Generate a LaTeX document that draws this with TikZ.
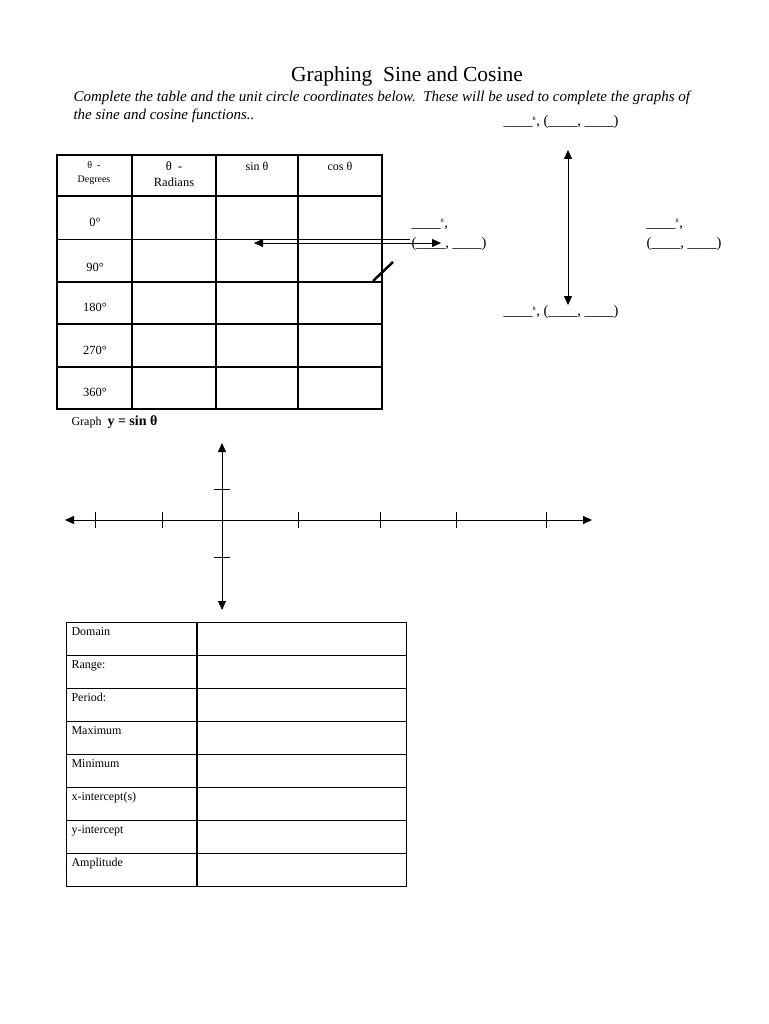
\documentclass[tikz,border=0pt]{standalone}
\usepackage{fontspec}
\setmainfont{Liberation Serif}
\usetikzlibrary{arrows.meta}
\begin{document}
\begin{tikzpicture}[x=1pt,y=-1pt,
  cell/.style={anchor=north,font=\fontsize{12}{13}\selectfont},
  lbl/.style={anchor=west,font=\fontsize{12}{13}\selectfont},
  clbl/.style={anchor=west,font=\fontsize{14.5}{15}\selectfont},
  arr/.style={{Triangle[length=9pt,width=8pt]}-{Triangle[length=9pt,width=8pt]}}]
\useasboundingbox (0,0) rectangle (768,1024);
\node (title) at (407,76) {\fontsize{21.5}{24}\selectfont Graphing\ \ Sine and Cosine};
\node[anchor=north west,align=left,font=\fontsize{15}{18}\selectfont\itshape] (instr) at (70,87) {Complete the table and the unit circle coordinates below.\ \ These will be used to complete the graphs of\\the sine and cosine functions..};
% table
\draw[line width=1.4pt] (57,155) rectangle (382,409);
\foreach \x in {132,216,298} \draw[line width=1.2pt] (\x,155) -- (\x,409);
\foreach \y in {196,282,324,367} \draw[line width=1.2pt] (57,\y) -- (382,\y);
\draw[line width=1pt] (57,239) -- (410,239);
\node[cell,align=center,font=\fontsize{10}{14}\selectfont] (h1) at (94,158) {θ\ \ -\\Degrees};
\node[cell,align=center,font=\fontsize{12.5}{16}\selectfont] (h2) at (174,158) {θ\ \ -\\Radians};
\node[cell] (h3) at (257,159) {sin θ};
\node[cell] (h4) at (340,159) {cos θ};
\foreach \t/\y in {0°/222,90°/267,180°/307,270°/350,360°/392} \node (r\y) at (95,\y) {\fontsize{12.5}{13}\selectfont \t};
\coordinate (sa) at (373,281); \coordinate (sb) at (393,262);
\draw[line width=2.5pt] (sa) -- (sb);
\coordinate (ha) at (254,243); \coordinate (hb) at (441,243);
\draw[arr] (ha) -- (hb);
\coordinate (va) at (568,150); \coordinate (vb) at (568,305);
\draw[arr] (va) -- (vb);
% coordinate labels
\node[clbl] (top) at (500,122) {\_\_\_\_\textsuperscript{\tiny R}, (\_\_\_\_, \_\_\_\_)};
\node[clbl] (bot) at (500,312) {\_\_\_\_\textsuperscript{\tiny R}, (\_\_\_\_, \_\_\_\_)};
\node[clbl,align=left,font=\fontsize{14.5}{20}\selectfont] (lft) at (408,235) {\_\_\_\_\textsuperscript{\tiny R},\\(\_\_\_\_, \_\_\_\_)};
\node[clbl,align=left,font=\fontsize{14.5}{20}\selectfont] (rgt) at (643,235) {\_\_\_\_\textsuperscript{\tiny R},\\(\_\_\_\_, \_\_\_\_)};
% graph
\node[lbl] (g) at (68,422) {Graph\ \ {\bfseries\fontsize{14}{15}\selectfont y = sin θ}};
\coordinate (xl) at (65,520); \coordinate (xr) at (592,520);
\coordinate (yt) at (222,443); \coordinate (yb) at (222,610);
\draw[arr,line width=0.8pt] (xl) -- (xr);
\draw[arr,line width=0.8pt] (yt) -- (yb);
\foreach \x in {95,162,298,380,456,546} \draw (\x,512) -- (\x,528);
\foreach \y in {489,557} \draw (214,\y) -- (230,\y);
% bottom table
\draw (66,622) rectangle (406,886);
\draw[line width=1.3pt] (197,622) -- (197,886);
\foreach \y in {655,688,721,754,787,820,853} \draw (66,\y) -- (406,\y);
\foreach \t [count=\i from 0] in {Domain,Range:,Period:,Maximum,Minimum,x-intercept(s),y-intercept,Amplitude}
  \node[lbl,anchor=north west] (b\i) at (68,{624+33*\i}) {\t};
\end{tikzpicture}
\end{document}
